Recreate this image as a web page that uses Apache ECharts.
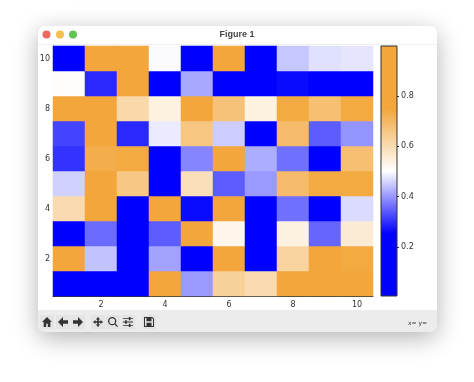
<!DOCTYPE html>
<html>
<head>
    <meta charset="utf-8">
    <title>Figure 1</title>
    <script src="https://cdn.jsdelivr.net/npm/echarts@6/dist/echarts.min.js"></script>
    <style>
        html, body { margin: 0; padding: 0; background: #fff; }
        #main { width: 474px; height: 382px; }
    </style>
</head>
<body>
<div id="main"></div>
<script type="text/javascript">
    var categories = ['1', '2', '3', '4', '5', '6', '7', '8', '9', '10'];

    // cell values, one list per row (saturated cells are guesses)
    var row10 = [0.08, 0.86, 0.90, 0.495, 0.12, 0.85, 0.10, 0.445, 0.47, 0.475];
    var row9 = [0.505, 0.29, 0.88, 0.15, 0.415, 0.09, 0.18, 0.26, 0.12, 0.06];
    var row8 = [0.84, 0.91, 0.61, 0.54, 0.80, 0.67, 0.54, 0.74, 0.68, 0.74];
    var row7 = [0.317, 0.87, 0.29, 0.48, 0.66, 0.45, 0.11, 0.69, 0.34, 0.395];
    var row6 = [0.30, 0.73, 0.74, 0.07, 0.38, 0.82, 0.42, 0.36, 0.14, 0.68];
    var row5 = [0.455, 0.89, 0.655, 0.05, 0.59, 0.34, 0.40, 0.69, 0.74, 0.74];
    var row4 = [0.60, 0.83, 0.16, 0.93, 0.26, 0.88, 0.04, 0.36, 0.10, 0.465];
    var row3 = [0.13, 0.355, 0.20, 0.34, 0.85, 0.525, 0.09, 0.54, 0.35, 0.555];
    var row2 = [0.94, 0.44, 0.005, 0.41, 0.17, 0.87, 0.15, 0.62, 0.998, 0.74];
    var row1 = [0.11, 0.19, 0.03, 0.90, 0.40, 0.63, 0.60, 0.92, 0.81, 0.95];
    var rows = [row1, row2, row3, row4, row5, row6, row7, row8, row9, row10];

    var valueMin = 0.005;
    var valueMax = 0.998;
    var colorbarTicks = [0.2, 0.4, 0.6, 0.8];

    // blue -> white -> orange, flat at both ends
    var cmap = ['#0000ff', '#0000ff', '#ffffff', '#f2a63b', '#f2a63b'];
    var cmapStops = [0, 0.25, 0.5, 0.75, 1];

    var cells = [];
    rows.forEach(function (row, y) {
        row.forEach(function (v, x) {
            cells.push([x, y, v]);
        });
    });

    var barStops = cmapStops.map(function (s, i) {
        return { offset: 1 - s, color: cmap[i] };
    });

    var labelStyle = { color: '#333', fontSize: 8, fontFamily: 'DejaVu Sans' };
    function everyOther(i) { return i % 2 === 1; }

    // toolbar icons
    var buttons = [
        { x: 47, path: 'M0 6L6 0L12 6L10 6L10 12L7 12L7 8L5 8L5 12L2 12L2 6Z' },
        { x: 63, path: 'M0 6L6 0L6 4L12 4L12 8L6 8L6 12Z' },
        { x: 78, path: 'M12 6L6 0L6 4L0 4L0 8L6 8L6 12Z' },
        { x: 98, path: 'M6 0L8.5 3L7 3L7 5L9 5L9 3.5L12 6L9 8.5L9 7L7 7L7 9L8.5 9L6 12L3.5 9L5 9L5 7L3 7L3 8.5L0 6L3 3.5L3 5L5 5L5 3L3.5 3Z' },
        { x: 113, path: 'M5 0A5 5 0 1 1 5 10A5 5 0 1 1 5 0ZM5 1.6A3.4 3.4 0 1 0 5 8.4A3.4 3.4 0 1 0 5 1.6ZM8 7L12 11L11 12L7 8Z' },
        { x: 128, path: 'M0 1.5H12V2.5H0ZM7 0H9V4H7ZM0 5.5H12V6.5H0ZM2.5 4H4.5V8H2.5ZM0 9.5H12V10.5H0ZM7 8H9V12H7Z' },
        { x: 149, path: 'M0 0H10L12 2V12H0ZM1.2 1.2V10.8H10.8V2.6L9.6 1.2H9V5H3V1.2ZM3 7H9V10.8H3Z' }
    ];

    var chrome = [
        { type: 'rect', z: -5, shape: { x: 38, y: 26, width: 399, height: 306, r: 7 },
          style: { fill: '#fff', shadowBlur: 24, shadowOffsetY: 6, shadowColor: 'rgba(0,0,0,0.3)' } },
        { type: 'rect', z: -4, shape: { x: 38, y: 310, width: 399, height: 22, r: [0, 0, 7, 7] }, style: { fill: '#ececec' } },
        { type: 'line', z: -4, shape: { x1: 38, y1: 44.5, x2: 437, y2: 44.5 }, style: { stroke: '#f0f0f0', lineWidth: 1 } },
        { type: 'circle', z: -3, shape: { cx: 46.5, cy: 34.5, r: 4 }, style: { fill: '#ec6a5e' } },
        { type: 'circle', z: -3, shape: { cx: 60, cy: 34.5, r: 4 }, style: { fill: '#f4bf4f' } },
        { type: 'circle', z: -3, shape: { cx: 73, cy: 34.5, r: 4 }, style: { fill: '#61c554' } },
        { type: 'text', z: -3, x: 237, y: 34.5, style: { text: 'Figure 1', fill: '#444', font: 'bold 9px "Liberation Sans"', align: 'center', verticalAlign: 'middle' } },
        { type: 'text', z: -3, x: 427, y: 323, style: { text: 'x= y=', fill: '#333', font: '6px "DejaVu Sans"', align: 'right', verticalAlign: 'middle' } },
        // colorbar outline sits over the gradient
        { type: 'rect', z: 10, silent: true, shape: { x: 381, y: 46, width: 16, height: 250 }, style: { fill: 'none', stroke: '#333', lineWidth: 1 } }
    ];
    buttons.forEach(function (b) {
        chrome.push({ type: 'rect', z: -3, shape: { x: b.x - 7, y: 315, width: 14, height: 14, r: 1 }, style: { fill: '#e4e4e4' } });
    });

    var myChart = echarts.init(document.getElementById('main'), null, { renderer: 'canvas' });
    myChart.setOption({
        animation: false,
        backgroundColor: '#fff',
        graphic: { elements: chrome },
        grid: [
            { left: 53, top: 46, width: 320, height: 250 },
            { left: 381, top: 46, width: 16, height: 250 }
        ],
        xAxis: [
            {
                type: 'category', gridIndex: 0, data: categories,
                axisLine: { lineStyle: { color: '#333', width: 1 } },
                axisTick: { alignWithLabel: true, interval: everyOther, length: 2, lineStyle: { color: '#333' } },
                axisLabel: Object.assign({ interval: everyOther, margin: 5 }, labelStyle)
            },
            { type: 'category', gridIndex: 1, data: ['c'], axisLine: { show: false }, axisTick: { show: false }, axisLabel: { show: false } }
        ],
        yAxis: [
            {
                type: 'category', gridIndex: 0, data: categories,
                axisLine: { lineStyle: { color: '#333', width: 1 } },
                axisTick: { alignWithLabel: true, interval: everyOther, length: 2, lineStyle: { color: '#333' } },
                axisLabel: Object.assign({ interval: everyOther, margin: 3 }, labelStyle)
            },
            {
                type: 'value', gridIndex: 1, position: 'right', min: valueMin, max: valueMax,
                splitLine: { show: false },
                axisLine: { show: false },
                axisTick: { show: true, length: 2, customValues: colorbarTicks, lineStyle: { color: '#333' } },
                axisLabel: Object.assign({ margin: 4, customValues: colorbarTicks, formatter: function (v) { return v.toFixed(1); } }, labelStyle)
            }
        ],
        visualMap: {
            show: false, type: 'continuous', seriesIndex: 0, dimension: 2,
            min: 0, max: 1,
            inRange: { color: cmap }
        },
        series: [
            { type: 'heatmap', xAxisIndex: 0, yAxisIndex: 0, data: cells, itemStyle: { borderWidth: 0 }, emphasis: { disabled: true } },
            {
                type: 'bar', xAxisIndex: 1, yAxisIndex: 1, data: [valueMax], barWidth: '100%', silent: true,
                itemStyle: { color: new echarts.graphic.LinearGradient(0, 0, 0, 1, barStops) }
            },
            {
                type: 'custom', coordinateSystem: 'none', silent: true, z: 3,
                data: buttons.map(function (b, i) { return [i]; }),
                renderItem: function (params) {
                    var b = buttons[params.dataIndex];
                    return {
                        type: 'path',
                        shape: { pathData: b.path, layout: 'center', x: b.x - 5, y: 317, width: 10, height: 10 },
                        style: { fill: '#333' }
                    };
                }
            }
        ]
    });
</script>
</body>
</html>
